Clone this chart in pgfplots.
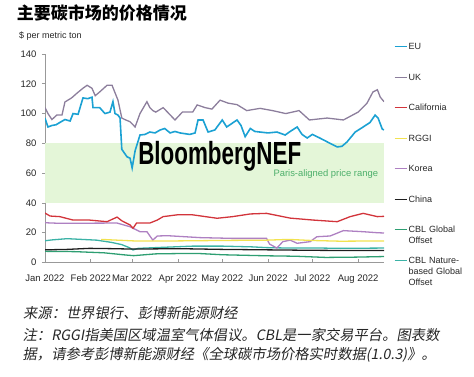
\documentclass[border=0pt]{standalone}
\usepackage{pgfplots}
\pgfplotsset{compat=1.18}
\usepackage{fontspec}
\setmainfont{Liberation Sans}
\newfontfamily\cjk{Noto Sans CJK SC}
\newfontfamily\cjkit[FakeSlant=0.18]{Noto Sans CJK SC}
\definecolor{cEU}{HTML}{1BA1D3}
\definecolor{cUK}{HTML}{8C7E9C}
\definecolor{cCA}{HTML}{D2343B}
\definecolor{cRG}{HTML}{F2E250}
\definecolor{cKR}{HTML}{AE80C2}
\definecolor{cCN}{HTML}{1E1E1E}
\definecolor{cNB}{HTML}{3BB2A6}
\definecolor{cGO}{HTML}{2E9E72}
\definecolor{cBand}{HTML}{E4F6D8}
\definecolor{cParis}{HTML}{4CAF6A}
\definecolor{cTxt}{HTML}{262626}
\begin{document}
\begin{tikzpicture}
\path[use as bounding box] (-45bp,-114.5bp) rectangle (429bp,262.5bp);
\begin{axis}[
  scale only axis, width=339bp, height=208.5bp,
  at={(0,0)}, anchor=south west,
  xmin=0, xmax=229.5, ymin=0, ymax=140,
  axis x line*=bottom, axis y line*=left,
  axis line style={draw=black!40, line width=0.6bp},
  xtick={0,31,59,90,120,151,181,212},
  xticklabels={Jan 2022,Feb 2022,Mar 2022,Apr 2022,May 2022,Jun 2022,Jul 2022,Aug 2022},
  ytick={0,20,...,140},
  tick style={draw=black!40, line width=0.6bp},
  major tick length=3bp,
  xtick align=inside, ytick align=outside,
  tick label style={font=\fontsize{9.5bp}{11bp}\selectfont, text=cTxt},
  /pgf/number format/assume math mode=true,
  yticklabel style={xshift=-2bp},
  xticklabel style={yshift=-9bp},
  legend style={at={(1.0295,1.053)}, anchor=north west, draw=none, fill=none,
    inner sep=0pt, outer sep=0pt, row sep=21.5bp, column sep=0pt,
    font=\fontsize{9bp}{10.8bp}\selectfont, text=cTxt,
    cells={anchor=base west},
    nodes={inner xsep=1.5bp, inner ysep=0pt, text height=7bp, text depth=2bp,
      text width=62bp, align=left}},
  legend image code/.code={\draw[#1, line width=1.1bp] (0bp,3.2bp) -- (12bp,3.2bp);},
  reverse legend,
]
\addplot[fill=cBand, draw=none, forget plot] coordinates {(0,40) (229.5,40) (229.5,80) (0,80)} -- cycle;
\node[anchor=base west, font=\bfseries\fontsize{32bp}{32bp}\selectfont, inner sep=0pt, text depth=0pt] at (axis cs:63,65.5) {\scalebox{0.7}[1]{BloombergNEF}};
\node[anchor=east, font=\fontsize{9.4bp}{11bp}\selectfont, text=cParis, inner sep=0pt] at (axis cs:225.6,59.6) {Paris-aligned price range};

\addplot[cNB, line width=1.3bp] coordinates {(0,14.6)(5,15.2)(15,16)(25,15.5)(35,15)(45,13.5)(52,12)(57,10)(59.6,8.4)(63,9.5)(75,10)(90,10.6)(100,11)(120,11)(140,10.5)(150,10)(160,9.8)(180,9.8)(200,9.5)(229.5,9.7)};
\addlegendentry{CBL Nature-\\based Global\\Offset}
\addplot[cGO, line width=1.3bp] coordinates {(0,7.5)(20,7.3)(40,6.5)(55,5)(60,4.6)(75,5.8)(90,6)(105,6)(120,5.2)(150,4.5)(170,4.2)(190,3.4)(210,3.6)(229.5,4)};
\addlegendentry{CBL Global\\Offset}
\addplot[cCN, line width=1.3bp] coordinates {(0,8.5)(15,8.8)(30,9.5)(45,9.3)(60,9)(90,9.3)(120,8.8)(150,8.5)(180,8.2)(210,8)(229.5,8)};
\addlegendentry{China}
\addplot[cKR, line width=1.3bp] coordinates {(0,26.7)(10,26.3)(48.8,26.5)(57.6,24)(64.3,20.7)(69,20.7)(73,15)(76,17.8)(83,18)(105,16.7)(127,16.2)(150,16.2)(152,12.4)(157,9.7)(161,14)(166,15)(170.7,12.9)(179.5,14)(184,17.3)(193,17.8)(202,21.4)(215,20.7)(225,20)(229.5,19.8)};
\addlegendentry{Korea}
\addplot[cRG, line width=1.3bp] coordinates {(38,15.5)(60,14.5)(90,14.5)(120,14.8)(150,15)(165,15.5)(180,14.8)(200,14.3)(229.5,14.5)};
\addlegendentry{RGGI}
\addplot[cCA, line width=1.3bp] coordinates {(0,33.2)(3.4,31.2)(10,30.8)(19,28.5)(30,28.5)(42,27.4)(48.8,30.5)(52,28)(57.6,25.2)(59.6,23)(62,26.5)(71,26.5)(76,28.5)(80,30.8)(89.4,32)(100,32)(116.5,29.7)(127,30.8)(139,32.6)(150,33)(166,29.8)(181.5,28.5)(197.8,27.4)(206.6,30.8)(215.4,33)(225,30.8)(229.5,31)};
\addlegendentry{California}
\addplot[cUK, line width=1.3bp] coordinates {(0,104)(2,100)(4.7,96)(8,99)(11.5,99)(13.5,107.8)(18,110.5)(22,114)(25.7,117)(28.5,119)(31.8,117)(34,112)(37,114.5)(42,119)(45.4,119)(47.4,114)(49.4,109)(52,97)(54,96)(57.6,94.5)(61,91)(64.3,100)(69,108)(71,104)(73,102)(75,101)(80,104)(88,95.7)(93,101)(100,101)(103,105.8)(108.4,104)(113,103)(118.5,109)(124,107)(130,106)(136.6,102)(145.6,103.5)(154,102)(163,100)(172,102)(179,95.7)(191,97)(202,95.7)(212,101)(218,107)(222,114.5)(225,116)(227,111)(229.5,108)};
\addlegendentry{UK}
\addplot[cEU, line width=1.6bp] coordinates {(0,97)(2,91)(4.7,92)(7.5,92.5)(10,94)(13.5,96)(17,95)(19,100)(22.4,99.5)(25.7,110.5)(29,110)(31.8,111)(32.5,104)(37,104)(40.6,100)(44,101)(46,108)(47.4,100)(49.4,99)(50.8,97)(52,76)(55.5,71)(57.6,70)(59,63.5)(61,75)(64.3,85.6)(67.7,86)(71,87.6)(74.5,87)(78,89)(81,90)(84.7,87)(88,88)(91.4,87)(98,86)(101.6,87)(103.6,95.7)(107,95.7)(110.4,87.6)(115,89)(120,95.7)(123,91)(130,95.7)(132.7,92)(135.5,84.5)(139,90)(142,88)(145.6,87.6)(151,87)(157,87.6)(162.6,85.6)(166,88)(170.7,91)(174,86)(177.5,83.6)(181,86)(186,83.6)(193,80)(197.8,77.6)(201,78)(204.5,81)(207,84)(210,87.6)(215.4,91)(220,94)(223.5,99)(225.5,97)(228.3,89.6)(229.5,89)};
\addlegendentry{EU}
\end{axis}
\node[anchor=west, inner sep=0pt, font=\cjk\bfseries\fontsize{17bp}{20bp}\selectfont, text=black] at (-28.3bp,249bp) {主要碳市场的价格情况};
\node[anchor=west, inner sep=0pt, font=\fontsize{9bp}{11bp}\selectfont, text=cTxt] at (-26bp,226.5bp) {\$ per metric ton};
\node[anchor=west, inner sep=0pt, font=\cjkit\fontsize{14.3bp}{17bp}\selectfont, text=cTxt] at (-22bp,-50.5bp) {来源：世界银行、彭博新能源财经};
\node[anchor=west, inner sep=0pt, font=\cjkit\fontsize{14.3bp}{17bp}\selectfont, text=cTxt] at (-22.5bp,-72.5bp) {注：RGGI指美国区域温室气体倡议。CBL是一家交易平台。图表数};
\node[anchor=west, inner sep=0pt, font=\cjkit\fontsize{14.3bp}{17bp}\selectfont, text=cTxt] at (-22.5bp,-92.5bp) {据，请参考彭博新能源财经《全球碳市场价格实时数据(1.0.3)》。};
\end{tikzpicture}
\end{document}
